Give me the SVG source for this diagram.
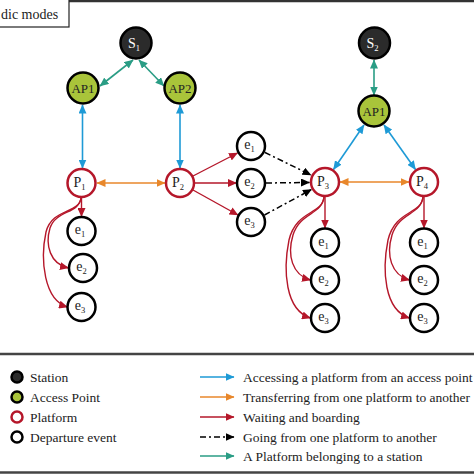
<svg xmlns="http://www.w3.org/2000/svg" width="474" height="474" viewBox="0 0 474 474" font-family="'Liberation Serif','Times New Roman',serif">
<style>
text{font-family:'Liberation Serif','Times New Roman',serif;}
.lbl{font-size:14px;fill:#222;text-anchor:middle;}
.sub{font-size:8.5px;}
.st{fill:#2b2b2b;stroke:#000;stroke-width:2.5;}
.ap{fill:#a9c43a;stroke:#000;stroke-width:2.5;}
.pl{fill:#fff;stroke:#b5172a;stroke-width:2.5;}
.ev{fill:#fff;stroke:#000;stroke-width:2.5;}
.blue{stroke:#1e9ad6;stroke-width:1.6;fill:none;}
.orange{stroke:#e8872b;stroke-width:1.6;fill:none;}
.red{stroke:#b5172a;stroke-width:1.4;fill:none;}
.teal{stroke:#2a9d85;stroke-width:1.6;fill:none;}
.dd{stroke:#000;stroke-width:1.5;fill:none;stroke-dasharray:6 3 2 3;}
.leg{font-size:13.5px;fill:#222;}
.rule{stroke:#444;stroke-width:2.5;}
</style>
<defs>
<marker id="mb" markerUnits="userSpaceOnUse" markerWidth="9" markerHeight="8" refX="8.5" refY="4" orient="auto-start-reverse"><path d="M0,0 L9,4 L0,8 z" fill="#1e9ad6"/></marker>
<marker id="mo" markerUnits="userSpaceOnUse" markerWidth="9" markerHeight="8" refX="8.5" refY="4" orient="auto-start-reverse"><path d="M0,0 L9,4 L0,8 z" fill="#e8872b"/></marker>
<marker id="mr" markerUnits="userSpaceOnUse" markerWidth="9" markerHeight="8" refX="8.5" refY="4" orient="auto-start-reverse"><path d="M0,0 L9,4 L0,8 z" fill="#b5172a"/></marker>
<marker id="mt" markerUnits="userSpaceOnUse" markerWidth="9" markerHeight="8" refX="8.5" refY="4" orient="auto-start-reverse"><path d="M0,0 L9,4 L0,8 z" fill="#2a9d85"/></marker>
<marker id="mk" markerUnits="userSpaceOnUse" markerWidth="9" markerHeight="8" refX="8.5" refY="4" orient="auto"><path d="M0,0 L9,4 L0,8 z" fill="#000"/></marker>
</defs>
<rect x="0" y="0" width="474" height="474" fill="#fff"/>
<line x1="0" y1="1" x2="474" y2="1" stroke="#333" stroke-width="2.5"/>
<rect x="-2" y="-1" width="71" height="28" fill="#fff" stroke="#222" stroke-width="1.2"/>
<text x="1" y="19" class="leg" style="font-size:14px">dic modes</text>

<g id="connectors">
<line class="teal" x1="133" y1="60" x2="100" y2="86" marker-start="url(#mt)" marker-end="url(#mt)"/>
<line class="teal" x1="139" y1="60" x2="164" y2="86" marker-start="url(#mt)" marker-end="url(#mt)"/>
<line class="teal" x1="374" y1="60" x2="374" y2="95" marker-start="url(#mt)" marker-end="url(#mt)"/>
<line class="blue" x1="82.5" y1="105" x2="82.5" y2="168" marker-start="url(#mb)" marker-end="url(#mb)"/>
<line class="blue" x1="180" y1="105" x2="180" y2="168" marker-start="url(#mb)" marker-end="url(#mb)"/>
<line class="blue" x1="364" y1="125" x2="333.5" y2="169.5" marker-start="url(#mb)" marker-end="url(#mb)"/>
<line class="blue" x1="384" y1="125" x2="415.5" y2="169.5" marker-start="url(#mb)" marker-end="url(#mb)"/>
<line class="orange" x1="97" y1="183" x2="165" y2="183" marker-start="url(#mo)" marker-end="url(#mo)"/>
<line class="orange" x1="340" y1="182" x2="409" y2="182" marker-start="url(#mo)" marker-end="url(#mo)"/>
<line class="red" x1="193" y1="176" x2="237.5" y2="153" marker-end="url(#mr)"/>
<line class="red" x1="195" y1="183" x2="236.5" y2="183" marker-end="url(#mr)"/>
<line class="red" x1="193" y1="190" x2="238" y2="215" marker-end="url(#mr)"/>
<line class="dd" x1="265" y1="152.5" x2="311" y2="175" marker-end="url(#mk)"/>
<line class="dd" x1="266" y1="183" x2="309.5" y2="182.5" marker-end="url(#mk)"/>
<line class="dd" x1="264.5" y1="215" x2="311.5" y2="189.5" marker-end="url(#mk)"/>
<line class="red" x1="81.5" y1="198" x2="81.5" y2="216.5" marker-end="url(#mr)"/>
<path class="red" d="M81,198 C79,214 56,210 50,228 C45,245 50,264 68.5,268" marker-end="url(#mr)"/>
<path class="red" d="M81,198 C79,214 52,208 46,232 C40,260 44,300 67.5,307" marker-end="url(#mr)"/>
<line class="red" x1="325" y1="197" x2="325" y2="228" marker-end="url(#mr)"/>
<path class="red" d="M324,197 C322,215 300,212 293,235 C287,255 292,275 310.5,280" marker-end="url(#mr)"/>
<path class="red" d="M324,197 C322,215 296,210 289,240 C283,270 285,310 310.5,318" marker-end="url(#mr)"/>
<line class="red" x1="424" y1="197" x2="424" y2="228" marker-end="url(#mr)"/>
<path class="red" d="M423,197 C421,215 399,212 392,235 C386,255 391,275 409.5,280" marker-end="url(#mr)"/>
<path class="red" d="M423,197 C421,215 395,210 388,240 C382,270 384,310 409.5,318" marker-end="url(#mr)"/>
</g>

<g id="S1"><circle class="st" cx="136" cy="43" r="15.5"/><text x="134" y="48" class="lbl" style="fill:#fff">S<tspan class="sub" dy="3">1</tspan></text></g>
<g id="S2"><circle class="st" cx="374.5" cy="43" r="15.5"/><text x="372.5" y="48" class="lbl" style="fill:#fff">S<tspan class="sub" dy="3">2</tspan></text></g>
<g id="AP1"><circle class="ap" cx="83" cy="88" r="15.5"/><text x="83" y="92.5" class="lbl" style="font-size:13px">AP1</text></g>
<g id="AP2"><circle class="ap" cx="180" cy="88" r="15.5"/><text x="180" y="92.5" class="lbl" style="font-size:13px">AP2</text></g>
<g id="AP1b"><circle class="ap" cx="374" cy="111" r="15.5"/><text x="374" y="115.5" class="lbl" style="font-size:13px">AP1</text></g>
<g id="P1"><circle class="pl" cx="81.5" cy="183" r="14"/><text x="79.5" y="187" class="lbl">P<tspan class="sub" dy="3">1</tspan></text></g>
<g id="P2"><circle class="pl" cx="180" cy="183" r="14"/><text x="178" y="187" class="lbl">P<tspan class="sub" dy="3">2</tspan></text></g>
<g id="P3"><circle class="pl" cx="325" cy="182" r="14"/><text x="323" y="186" class="lbl">P<tspan class="sub" dy="3">3</tspan></text></g>
<g id="P4"><circle class="pl" cx="424" cy="182" r="14"/><text x="422" y="186" class="lbl">P<tspan class="sub" dy="3">4</tspan></text></g>

<g id="P1e1"><circle class="ev" cx="81.5" cy="231" r="14"/><text x="80" y="234" class="lbl">e<tspan class="sub" dy="3">1</tspan></text></g>
<g id="P1e2"><circle class="ev" cx="83" cy="268" r="14"/><text x="81.5" y="271" class="lbl">e<tspan class="sub" dy="3">2</tspan></text></g>
<g id="P1e3"><circle class="ev" cx="81.5" cy="307" r="14"/><text x="80" y="310" class="lbl">e<tspan class="sub" dy="3">3</tspan></text></g>
<g id="P2e1"><circle class="ev" cx="251" cy="146" r="14"/><text x="249.5" y="149" class="lbl">e<tspan class="sub" dy="3">1</tspan></text></g>
<g id="P2e2"><circle class="ev" cx="251" cy="183" r="14"/><text x="249.5" y="186" class="lbl">e<tspan class="sub" dy="3">2</tspan></text></g>
<g id="P2e3"><circle class="ev" cx="251" cy="222" r="14"/><text x="249.5" y="225" class="lbl">e<tspan class="sub" dy="3">3</tspan></text></g>
<g id="P3e1"><circle class="ev" cx="325" cy="242.5" r="14"/><text x="323.5" y="245.5" class="lbl">e<tspan class="sub" dy="3">1</tspan></text></g>
<g id="P3e2"><circle class="ev" cx="325" cy="280" r="14"/><text x="323.5" y="283" class="lbl">e<tspan class="sub" dy="3">2</tspan></text></g>
<g id="P3e3"><circle class="ev" cx="325" cy="318" r="14"/><text x="323.5" y="321" class="lbl">e<tspan class="sub" dy="3">3</tspan></text></g>
<g id="P4e1"><circle class="ev" cx="424" cy="242.5" r="14"/><text x="422.5" y="245.5" class="lbl">e<tspan class="sub" dy="3">1</tspan></text></g>
<g id="P4e2"><circle class="ev" cx="424" cy="280" r="14"/><text x="422.5" y="283" class="lbl">e<tspan class="sub" dy="3">2</tspan></text></g>
<g id="P4e3"><circle class="ev" cx="424" cy="318" r="14"/><text x="422.5" y="321" class="lbl">e<tspan class="sub" dy="3">3</tspan></text></g>

<g id="legend">
<line class="rule" x1="0" y1="354" x2="474" y2="354"/>
<line class="rule" x1="0" y1="472.5" x2="474" y2="472.5"/>
<circle class="st" cx="17" cy="377" r="5.5"/><text x="30" y="382" class="leg">Station</text>
<circle class="ap" cx="17" cy="397" r="5.5"/><text x="30" y="402" class="leg">Access Point</text>
<circle class="pl" cx="17" cy="417" r="5.5"/><text x="30" y="422" class="leg">Platform</text>
<circle class="ev" cx="17" cy="437" r="5.5"/><text x="30" y="442" class="leg">Departure event</text>
<line class="blue" x1="200" y1="377" x2="234" y2="377" marker-end="url(#mb)"/><text x="243" y="382" class="leg">Accessing a platform from an access point</text>
<line class="orange" x1="200" y1="397" x2="234" y2="397" marker-end="url(#mo)"/><text x="243" y="402" class="leg">Transferring from one platform to another</text>
<line class="red" x1="200" y1="417" x2="234" y2="417" marker-end="url(#mr)"/><text x="243" y="422" class="leg">Waiting and boarding</text>
<line class="dd" x1="200" y1="437" x2="234" y2="437" marker-end="url(#mk)"/><text x="243" y="442" class="leg">Going from one platform to another</text>
<line class="teal" x1="200" y1="456" x2="234" y2="456" marker-end="url(#mt)"/><text x="243" y="461" class="leg">A Platform belonging to a station</text>
</g>
</svg>
